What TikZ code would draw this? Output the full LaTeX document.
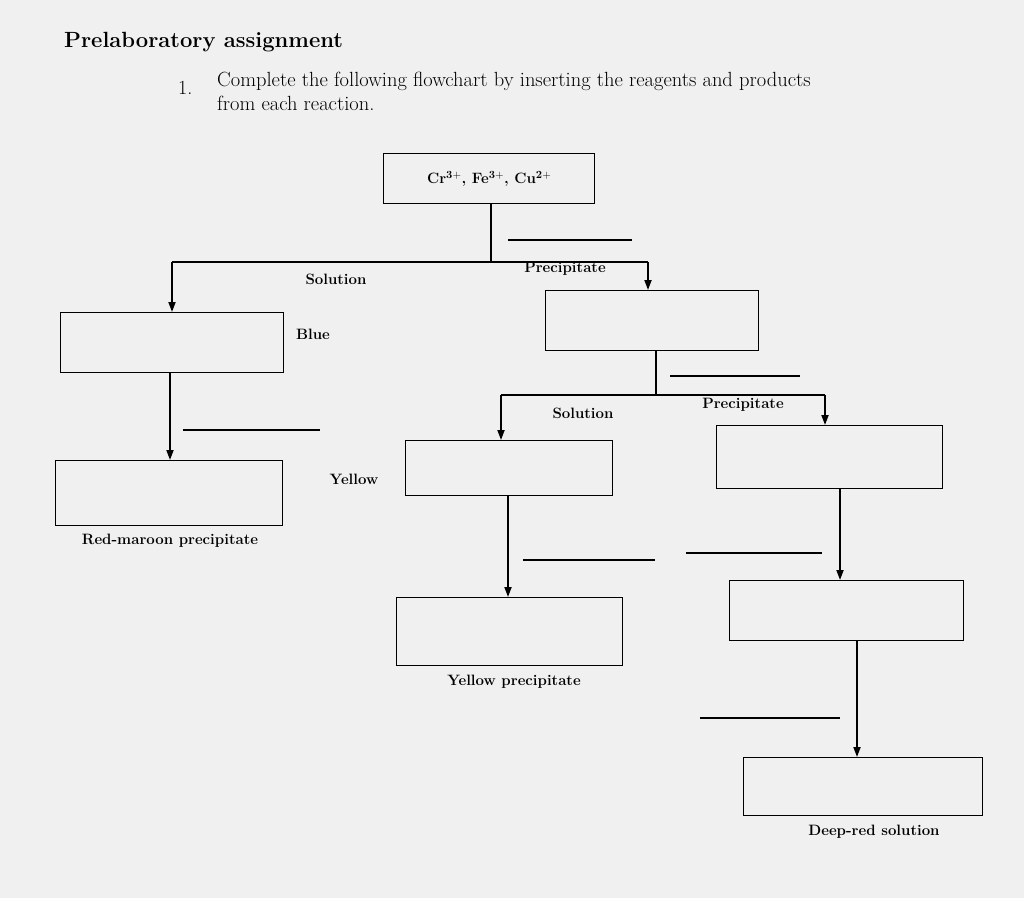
\documentclass[tikz,border=0pt]{standalone}
\usetikzlibrary{arrows.meta}
\begin{document}
\begin{tikzpicture}[x=1pt,y=-1pt,
  bx/.style={draw,line width=1.4pt,anchor=north west,inner sep=0pt},
  ln/.style={line width=1.8pt},
  ar/.style={line width=1.8pt,-{Triangle[length=10pt,width=7pt]}},
  lab/.style={font=\bfseries\fontsize{15}{17}\selectfont},
  blank/.style={line width=1.2pt}]
\fill[gray!12] (0,0) rectangle (1024,898);
\useasboundingbox (0,0) rectangle (1024,898);
\node[anchor=west,font=\bfseries\fontsize{22}{26}\selectfont,inner sep=0pt] (title) at (64,42) {Prelaboratory assignment};
\node[anchor=west,font=\fontsize{20}{24}\selectfont,inner sep=0pt] (num) at (178,88) {1.};
\node[anchor=north west,font=\fontsize{20.5}{24}\selectfont,align=left,inner sep=0pt] (task) at (217,72) {Complete the following flowchart by inserting the reagents and products\\from each reaction.};
% boxes
\node[bx,minimum width=211pt,minimum height=50pt] (b0) at (383,153) {};
\node[lab] at (b0.center) {Cr$^{\mathbf{3+}}$, Fe$^{\mathbf{3+}}$, Cu$^{\mathbf{2+}}$};
\node[bx,minimum width=223pt,minimum height=60pt] (l1) at (60,312) {};
\node[bx,minimum width=227pt,minimum height=65pt] (l2) at (55,460) {};
\node[bx,minimum width=213pt,minimum height=60pt] (r1) at (545,290) {};
\node[bx,minimum width=207pt,minimum height=55pt] (m1) at (405,440) {};
\node[bx,minimum width=226pt,minimum height=63pt] (r2) at (716,425) {};
\node[bx,minimum width=226pt,minimum height=68pt] (m2) at (396,597) {};
\node[bx,minimum width=234pt,minimum height=60pt] (r3) at (729,580) {};
\node[bx,minimum width=239pt,minimum height=58pt] (r4) at (743,757) {};
% coordinates
\coordinate (j0) at (491,262);
\coordinate (jl) at (172,262);
\coordinate (jr) at (648,262);
\coordinate (j1) at (656,395);
\coordinate (j1l) at (501,395);
\coordinate (j1r) at (825,395);
% connectors
\draw[ln] (b0.south -| j0) -- (j0);
\draw[ln] (jl) -- (jr);
\draw[ar] (jl) -- (jl |- l1.north);
\draw[ar] (jr) -- (jr |- r1.north);
\draw[ln] (r1.south -| j1) -- (j1);
\draw[ln] (j1l) -- (j1r);
\draw[ar] (j1l) -- (j1l |- m1.north);
\draw[ar] (j1r) -- (j1r |- r2.north);
\draw[ar] (l1.south -| 170,0) -- (l2.north -| 170,0);
\draw[ar] (m1.south -| 508,0) -- (m2.north -| 508,0);
\draw[ar] (r2.south -| 840,0) -- (r3.north -| 840,0);
\draw[ar] (r3.south -| 857,0) -- (r4.north -| 857,0);
% blanks
\draw[blank] (508,240) -- (632,240);
\draw[blank] (183,430) -- (320,430);
\draw[blank] (670,376) -- (800,376);
\draw[blank] (523,560) -- (655,560);
\draw[blank] (686,553) -- (822,553);
\draw[blank] (700,718) -- (840,718);
% labels
\node[lab] at (336,279) {Solution};
\node[lab] at (565,269) {Precipitate};
\node[lab] at (313,334) {Blue};
\node[lab] at (170,541) {Red-maroon precipitate};
\node[lab] at (583,413) {Solution};
\node[lab] at (743,405) {Precipitate};
\node[lab] at (354,479) {Yellow};
\node[lab] at (514,682) {Yellow precipitate};
\node[lab] at (874,832) {Deep-red solution};
\end{tikzpicture}
\end{document}
